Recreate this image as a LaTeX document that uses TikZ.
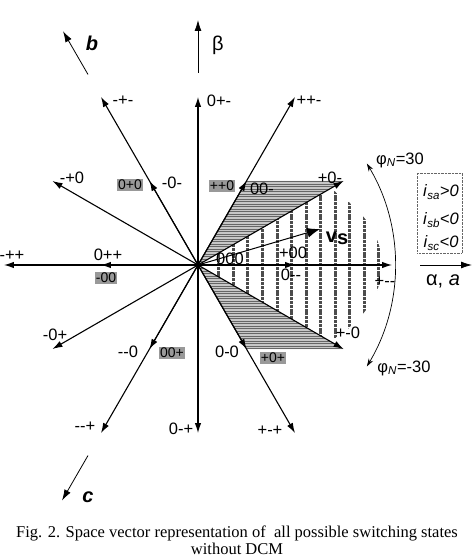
\documentclass[tikz,border=0pt]{standalone}
\usepackage{fontspec}
\setmainfont{Liberation Serif}
\setsansfont[Ligatures=TeXOff]{Liberation Sans}
\usetikzlibrary{arrows.meta}

\tikzset{
  vec/.style={-{Latex[length=10pt,width=6.5pt]}, line width=1.1pt},
  axis/.style={-{Latex[length=11pt,width=7pt]}, line width=0.8pt},
  lbl/.style={font=\sffamily\fontsize{16.5}{16.5}\selectfont, inner sep=0pt},
  greylbl/.style={font=\sffamily\fontsize{14}{14}\selectfont, fill=black!40, inner sep=1pt},
  axlbl/.style={font=\sffamily\fontsize{20}{20}\selectfont, inner sep=0pt},
}

\begin{document}
\begin{tikzpicture}[x=1pt,y=1pt]
  \useasboundingbox (-198,-292) rectangle (276,265);

  \coordinate (O) at (0,0);

  % hatched sectors
  \begin{scope}
    \clip (0,0) -- (60:97) -- (145.5,84) -- cycle;
    \fill[black!22] (0,0) rectangle (150,90);
    \foreach \y in {1,3.5,...,85} \draw[black!60, line width=0.7pt] (0,\y) -- (150,\y);
  \end{scope}
  \begin{scope}
    \clip (0,0) -- (-60:97) -- (145.5,-84) -- cycle;
    \fill[black!22] (0,0) rectangle (150,-90);
    \foreach \y in {1,3.5,...,85} \draw[black!60, line width=0.7pt] (0,-\y) -- (150,-\y);
  \end{scope}
  \begin{scope}
    \clip (0,0) -- (200,115.5) -- (200,-115.5) -- cycle;
    \clip (0,0) ellipse [x radius=184, y radius=110];
    \foreach \x in {21,35.5,...,185}
      \draw[black!70, line width=3pt, dash pattern=on 3pt off 0.8pt] (\x,-115) -- (\x,115);
  \end{scope}

  \begin{scope}
    \coordinate (tpnn) at (0:194);
    \coordinate (tppn) at (60:194);
    \coordinate (tnpn) at (120:194);
    \coordinate (tnpp) at (180:194);
    \coordinate (tnnp) at (240:194);
    \coordinate (tpnp) at (300:194);
    \coordinate (tpzn) at (30:168);
    \coordinate (tzpn) at (90:168);
    \coordinate (tnpz) at (150:168);
    \coordinate (tnzp) at (210:168);
    \coordinate (tznp) at (270:168);
    \coordinate (tpnz) at (330:168);
    \coordinate (s0) at (0:97);
    \coordinate (s60) at (60:97);
    \coordinate (s120) at (120:97);
    \coordinate (s180) at (180:97);
    \coordinate (s240) at (240:97);
    \coordinate (s300) at (300:97);
    \coordinate (tvs) at (122,36);
  \end{scope}

  \foreach \t in {tpnn,tppn,tnpn,tnpp,tnnp,tpnp,tpzn,tzpn,tnpz,tnzp,tznp,tpnz,s0,s60,s120,s180,s240,s300}
    \draw[vec] (O) -- (\t);
  \draw[-{Latex[length=13pt,width=10pt]}, line width=1pt] (O) -- (tvs);

  % axes
  \coordinate (beta0) at (90:192);
  \coordinate (beta1) at (90:245);
  \coordinate (b0) at (120:220);
  \coordinate (b1) at (120:270);
  \coordinate (c0) at (240:220);
  \coordinate (c1) at (240:272);
  \coordinate (al0) at (222,0);
  \coordinate (al1) at (274,0);
  \draw[axis] (beta0) -- (beta1);
  \draw[axis] (b0) -- (b1);
  \draw[axis] (c0) -- (c1);
  \draw[axis] (al0) -- (al1);

  \draw[{Stealth[length=8pt,width=5pt]}-{Stealth[length=8pt,width=5pt]}, line width=0.7pt]
    (-31:197) arc[start angle=-31, end angle=31, radius=197];

  \draw[densely dotted, black!60] (219,12) rectangle (264,92);

  \begin{scope}[every node/.style={lbl}]
    \node (npn) at (-75,164) {-+-};
    \node (zpn) at (21,164) {0+-};
    \node (ppn) at (111,164) {++-};
    \node (npz) at (-126,87) {-+0};
    \node (nzn) at (-26,82) {-0-};
    \node (zzn) at (64,76) {00-};
    \node (pzn) at (132,87) {+0-};
    \node (npp) at (-186,9) {-++};
    \node (zpp) at (-90,10) {0++};
    \node (zzz) at (32,6) {000};
    \node (pzz) at (95,12) {+00};
    \node (znn) at (93,-10) {0--};
    \node (pnn) at (187,-17) {+--};
    \node (nzp) at (-143,-70) {-0+};
    \node (nnz) at (-70,-87) {--0};
    \node (znz) at (29,-87) {0-0};
    \node (pnz) at (150,-68) {+-0};
    \node (nnp) at (-113,-162) {--+};
    \node (znp) at (-17,-164) {0-+};
    \node (pnp) at (72,-166) {+-+};
    \node (phip) at (202,105) {φ\textsubscript{\textit{N}}=30};
    \node (phin) at (206,-103) {φ\textsubscript{\textit{N}}=-30};
    \node (isa) at (243,73) {\textit{i}\textsubscript{\textit{sa}}\textit{>0}};
    \node (isb) at (243,45) {\textit{i}\textsubscript{\textit{sb}}\textit{<0}};
    \node (isc) at (243,22) {\textit{i}\textsubscript{\textit{sc}}\textit{<0}};
  \end{scope}

  \begin{scope}[every node/.style={greylbl}]
    \node (zpz) at (-68,80) {0+0};
    \node (ppz) at (24,79) {++0};
    \node (nzz) at (-92,-13) {-00};
    \node (zzp) at (-26,-88) {00+};
    \node (pzp) at (75,-93) {+0+};
  \end{scope}

  \begin{scope}[every node/.style={axlbl}]
    \node (beta) at (20,220) {β};
    \node (b) at (-106,222) {\textbf{\textit{b}}};
    \node (c) at (-110,-232) {\textbf{\textit{c}}};
    \node (alpha) at (245,-16) {α, \textit{a}};
    \node (vs) at (139,27) {\textbf{v\raisebox{-2pt}{s}}};
  \end{scope}

  \begin{scope}[every node/.style={font=\fontsize{16.5}{18}\selectfont, inner sep=0pt}]
    \node (cap1) at (39,-268) {Fig. 2. Space vector representation of \ all possible switching states};
    \node (cap2) at (39,-284) {without DCM};
  \end{scope}

\end{tikzpicture}
\end{document}
